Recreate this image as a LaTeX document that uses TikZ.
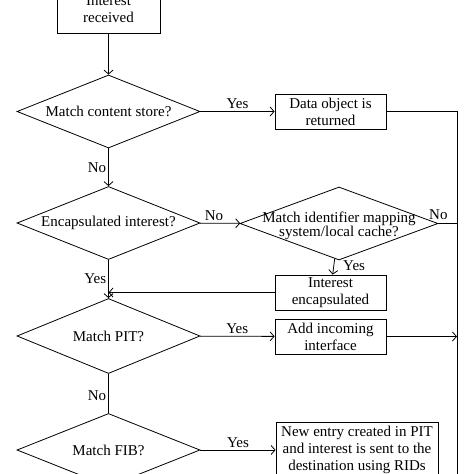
\documentclass[tikz,border=0pt]{standalone}
\usepackage{fontspec}
\setmainfont{Liberation Serif}
\usetikzlibrary{shapes.geometric,arrows.meta,positioning}
\begin{document}
\begin{tikzpicture}[x=1pt,y=-1pt,line width=0.8pt,
  font=\fontsize{15}{17}\selectfont,
  decision/.style={diamond, draw, aspect=2.5, inner sep=0pt, minimum width=183pt, minimum height=73pt},
  process/.style={rectangle, draw, align=center, inner sep=1pt, minimum width=111pt, minimum height=35pt},
  lbl/.style={inner sep=2pt},
  arr/.style={-{Straight Barb[length=4pt,width=9pt]}}]
  \useasboundingbox (0,0) rectangle (474,474);
  \clip (0,0) rectangle (474,474);
  % Nodes (top to bottom)
  \node (start) at (108.5,9) [process, minimum width=103pt, minimum height=48pt] {Interest\\received};
  \node (cs) at (108.5,111.5) [decision] {Match content store?};
  \node (data) at (330.5,111.5) [process] {Data object is\\returned};
  \node (enc) at (108.5,223) [decision] {Encapsulated interest?};
  \node (map) at (339,223.5) [decision, minimum width=198pt] {};
  \node (maptxt) at (339,226) [align=center, inner sep=0pt, font=\fontsize{15}{12.5}\selectfont] {Match identifier mapping\\system/local cache?};
  \node (encd) at (330.5,292.5) [process] {Interest\\encapsulated};
  \node (pit) at (108.5,336) [decision, minimum height=75pt] {Match PIT?};
  \node (add) at (330.5,336.5) [process] {Add incoming\\interface};
  \node (fib) at (108.5,450) [decision] {Match FIB?};
  \node (fwd) at (357,450) [process, minimum width=162pt, minimum height=56pt] {New entry created in PIT\\and interest is sent to the\\destination using RIDs};
  % Right-hand return line
  \coordinate (rtop) at (457,111.5);
  \coordinate (rbot) at (457,480);
  % Edges
  \draw[arr] (start) -- (cs);
  \draw[arr] (cs) -- node[lbl, above] (y1) {Yes} (data);
  \draw (data) -- (rtop) -- (rbot);
  \draw[arr] (cs) -- node[lbl, left] (n1) {No} (enc);
  \draw[arr] (enc) -- node[lbl, above, pos=0.35] (n2) {No} (map);
  \draw (map.east) -- (map.east -| rtop);
  \node[lbl, above=1pt of map.east] (n3) {No};
  \draw[arr] (map) -- node[lbl, right, pos=0.45, xshift=7pt] (y2) {Yes} (encd);
  \draw[arr] (encd.west) -- (encd.west -| enc.south);
  \draw[arr] (enc) -- node[lbl, left] (y3) {Yes} (pit);
  \draw[arr] (pit) -- node[lbl, above] (y4) {Yes} (add);
  \draw[arr] (add) -- (add -| rtop);
  \draw (pit) -- node[lbl, left, pos=0.55] (n4) {No} (fib);
  \draw[arr] (fib) -- node[lbl, above] (y5) {Yes} (fwd);
\end{tikzpicture}
\end{document}
